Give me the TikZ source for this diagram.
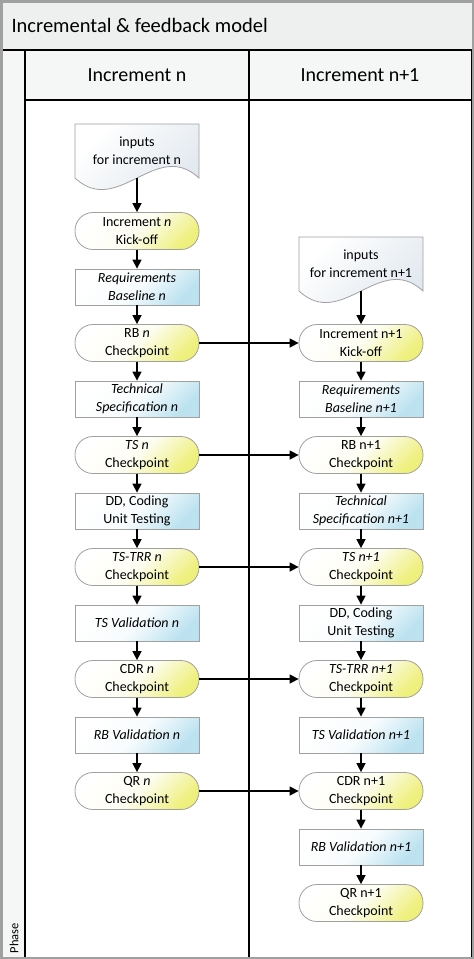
\documentclass[tikz,border=0pt]{standalone}
\usepackage{fontspec}
\setmainfont{Carlito}
\usetikzlibrary{arrows.meta}
\tikzset {>={Triangle[length=9pt,width=9pt]}}

\definecolor{lanegray}{HTML}{EEF0F0}
\definecolor{headgray}{HTML}{F5F6F6}
\definecolor{edgegray}{HTML}{A0A0A0}
\definecolor{termyellow}{HTML}{EEF07E}
\definecolor{boxblue}{HTML}{BCE2F0}
\definecolor{docblue}{HTML}{DDE5EC}

\tikzset{
  base/.style={draw=edgegray, line width=.8pt, minimum width=124pt, align=center,
    font=\fontsize{14}{18}\selectfont, inner sep=2pt},
  term/.style={base, minimum height=37pt, rounded corners=18pt,
    top color=white, bottom color=termyellow, middle color=white!90!termyellow, shading angle=45},
  task/.style={base, minimum height=36pt,
    top color=white, bottom color=boxblue, middle color=white!90!boxblue, shading angle=45},
  doctext/.style={minimum width=124pt, minimum height=54pt, align=center,
    font=\fontsize{14}{18}\selectfont, inner sep=0pt},
  docline/.style={draw=edgegray, line width=.8pt, top color=white, bottom color=docblue, shading angle=45},
  flow/.style={->, line width=1.5pt},
}

\begin{document}
\begin{tikzpicture}[x=1pt,y=-1pt]
\useasboundingbox (0,0) rectangle (474,959);

% swimlane frame
\fill[lanegray] (0,0) rectangle (474,50);
\fill[headgray] (25,50) rectangle (472,100);
\fill[headgray] (0,50) rectangle (25,959);
\draw[line width=1.2pt]
  (0,50) -- (472,50)
  (25,50) -- (25,957)
  (25,100) -- (472,100)
  (249,50) -- (249,957)
  (471.5,50) -- (471.5,957);
\draw[edgegray, line width=2.5pt] (1.25,1.25) rectangle (472.75,957.75);

\node[anchor=base west, font=\fontsize{20.5}{24}\selectfont] (title) at (8,32) {Incremental \& feedback model};
\node[font=\fontsize{20}{24}\selectfont] (laneA) at (137,75) {Increment n};
\node[font=\fontsize{20}{24}\selectfont] (laneB) at (360,75) {Increment n+1};
\node[rotate=90, font=\fontsize{12.5}{15}\selectfont] (phase) at (14,938) {Phase};

% inputs
\draw[docline] (75,124) -- ++(124,0) -- ++(0,54)
  .. controls +(-43,-40) and +(43,40) .. ++(-124,0) -- cycle;
\node[doctext] (inA) at (137,151) {inputs\\for increment n};
\draw[docline] (299,237) -- ++(124,0) -- ++(0,54)
  .. controls +(-43,-40) and +(43,40) .. ++(-124,0) -- cycle;
\node[doctext] (inB) at (361,264) {inputs\\for increment n+1};

% increment n
\node[term] (kickA) at (137,231) {Increment \textit{n}\\Kick-off};
\node[task] (reqA)  at (137,287) {\textit{Requirements}\\\textit{Baseline n}};
\node[term] (rbA)   at (137,343) {RB \textit{n}\\Checkpoint};
\node[task] (techA) at (137,399) {\textit{Technical}\\\textit{Specification n}};
\node[term] (tsA)   at (137,455) {\textit{TS n}\\Checkpoint};
\node[task] (ddA)   at (137,511) {DD, Coding\\Unit Testing};
\node[term] (trrA)  at (137,567) {\textit{TS-TRR n}\\Checkpoint};
\node[task] (tsvA)  at (137,623) {\textit{TS Validation n}};
\node[term] (cdrA)  at (137,679) {CDR \textit{n}\\Checkpoint};
\node[task] (rbvA)  at (137,735) {\textit{RB Validation n}};
\node[term] (qrA)   at (137,791) {QR \textit{n}\\Checkpoint};

% increment n+1
\node[term] (kickB) at (361,343) {Increment n+1\\Kick-off};
\node[task] (reqB)  at (361,399) {\textit{Requirements}\\\textit{Baseline n+1}};
\node[term] (rbB)   at (361,455) {RB n+1\\Checkpoint};
\node[task] (techB) at (361,511) {\textit{Technical}\\\textit{Specification n+1}};
\node[term] (tsB)   at (361,567) {\textit{TS n+1}\\Checkpoint};
\node[task] (ddB)   at (361,623) {DD, Coding\\Unit Testing};
\node[term] (trrB)  at (361,679) {\textit{TS-TRR n+1}\\Checkpoint};
\node[task] (tsvB)  at (361,735) {\textit{TS Validation n+1}};
\node[term] (cdrB)  at (361,791) {CDR n+1\\Checkpoint};
\node[task] (rbvB)  at (361,847) {\textit{RB Validation n+1}};
\node[term] (qrB)   at (361,903) {QR n+1\\Checkpoint};

\foreach \col in {A,B}
  \foreach \u/\v in {in/kick,kick/req,req/rb,rb/tech,tech/ts,ts/dd,dd/trr,trr/tsv,tsv/cdr,cdr/rbv,rbv/qr}
    \draw[flow] (\u\col.south) -- (\v\col.north);

\foreach \u/\v in {rbA/kickB,tsA/rbB,trrA/tsB,cdrA/trrB,qrA/cdrB}
  \draw[flow] (\u.east) -- (\v.west);
\end{tikzpicture}
\end{document}
